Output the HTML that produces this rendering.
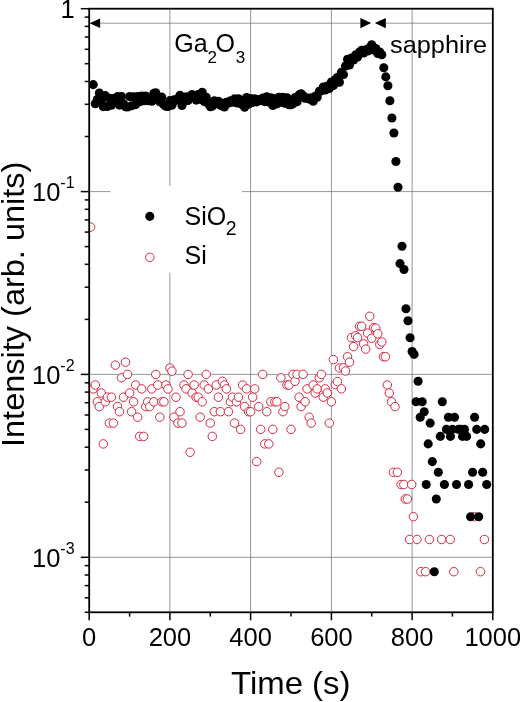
<!DOCTYPE html>
<html lang="en"><head><meta charset="utf-8"><title>SIMS depth profile</title>
<style>html,body{margin:0;padding:0;background:#fff}svg{display:block}</style></head>
<body>
<svg width="520" height="702" viewBox="0 0 520 702" font-family="'Liberation Sans', Arial, sans-serif" fill="#000">
<rect width="520" height="702" fill="#fff"/>
<defs><clipPath id="pa"><rect x="89.2" y="8.7" width="403.6" height="603.6"/></clipPath></defs>
<g stroke="#666c72" stroke-width="0.7">
<line x1="169.9" y1="8.7" x2="169.9" y2="612.3"/>
<line x1="250.6" y1="8.7" x2="250.6" y2="612.3"/>
<line x1="331.4" y1="8.7" x2="331.4" y2="612.3"/>
<line x1="412.1" y1="8.7" x2="412.1" y2="612.3"/>
<line x1="89.2" y1="191.6" x2="492.8" y2="191.6"/>
<line x1="89.2" y1="374.4" x2="492.8" y2="374.4"/>
<line x1="89.2" y1="557.3" x2="492.8" y2="557.3"/>
</g>
<rect x="110.4" y="186" width="131.6" height="86.7" fill="#fff"/>
<rect x="172" y="30" width="76" height="36" fill="#fff"/>
<path d="M95 23.2 H365 M380 23.2 H492.8" stroke="#666c72" stroke-width="0.7" fill="none"/>
<path d="M89.6 23.3 L100.1 18.6 L100.1 28 Z"/>
<path d="M371.2 23.1 L360.4 17.9 L360.4 28.3 Z"/>
<path d="M374.8 23.1 L385.8 17.9 L385.8 28.3 Z"/>
<g clip-path="url(#pa)">
<g fill="#fff" stroke="#d42a45" stroke-width="1">
<circle cx="90.6" cy="227.1" r="4.25"/>
<circle cx="93.2" cy="388.9" r="4.25"/>
<circle cx="95.3" cy="385.0" r="4.25"/>
<circle cx="97.3" cy="401.8" r="4.25"/>
<circle cx="99.3" cy="406.6" r="4.25"/>
<circle cx="101.3" cy="393.0" r="4.25"/>
<circle cx="103.3" cy="443.9" r="4.25"/>
<circle cx="105.3" cy="401.8" r="4.25"/>
<circle cx="107.4" cy="397.2" r="4.25"/>
<circle cx="109.4" cy="423.1" r="4.25"/>
<circle cx="111.4" cy="397.2" r="4.25"/>
<circle cx="113.4" cy="423.1" r="4.25"/>
<circle cx="115.4" cy="365.1" r="4.25"/>
<circle cx="117.5" cy="406.6" r="4.25"/>
<circle cx="119.5" cy="411.7" r="4.25"/>
<circle cx="121.5" cy="377.8" r="4.25"/>
<circle cx="123.5" cy="397.2" r="4.25"/>
<circle cx="125.5" cy="362.2" r="4.25"/>
<circle cx="127.5" cy="374.4" r="4.25"/>
<circle cx="129.6" cy="393.0" r="4.25"/>
<circle cx="131.6" cy="411.7" r="4.25"/>
<circle cx="133.6" cy="401.8" r="4.25"/>
<circle cx="135.6" cy="385.0" r="4.25"/>
<circle cx="137.6" cy="417.2" r="4.25"/>
<circle cx="139.7" cy="436.4" r="4.25"/>
<circle cx="141.7" cy="388.9" r="4.25"/>
<circle cx="143.7" cy="436.4" r="4.25"/>
<circle cx="145.7" cy="406.6" r="4.25"/>
<circle cx="147.7" cy="401.8" r="4.25"/>
<circle cx="149.7" cy="406.6" r="4.25"/>
<circle cx="151.8" cy="388.9" r="4.25"/>
<circle cx="153.8" cy="401.8" r="4.25"/>
<circle cx="155.8" cy="374.4" r="4.25"/>
<circle cx="157.8" cy="385.0" r="4.25"/>
<circle cx="159.8" cy="417.2" r="4.25"/>
<circle cx="161.8" cy="401.8" r="4.25"/>
<circle cx="163.9" cy="401.8" r="4.25"/>
<circle cx="165.9" cy="385.0" r="4.25"/>
<circle cx="167.9" cy="388.9" r="4.25"/>
<circle cx="169.9" cy="368.0" r="4.25"/>
<circle cx="171.9" cy="371.2" r="4.25"/>
<circle cx="174.0" cy="417.2" r="4.25"/>
<circle cx="176.0" cy="397.2" r="4.25"/>
<circle cx="178.0" cy="423.1" r="4.25"/>
<circle cx="180.0" cy="411.7" r="4.25"/>
<circle cx="182.0" cy="423.1" r="4.25"/>
<circle cx="184.0" cy="385.0" r="4.25"/>
<circle cx="186.1" cy="388.9" r="4.25"/>
<circle cx="188.1" cy="374.4" r="4.25"/>
<circle cx="190.1" cy="452.3" r="4.25"/>
<circle cx="192.1" cy="393.0" r="4.25"/>
<circle cx="194.1" cy="385.0" r="4.25"/>
<circle cx="196.2" cy="397.2" r="4.25"/>
<circle cx="198.2" cy="397.2" r="4.25"/>
<circle cx="200.2" cy="417.2" r="4.25"/>
<circle cx="202.2" cy="401.8" r="4.25"/>
<circle cx="204.2" cy="385.0" r="4.25"/>
<circle cx="206.2" cy="374.4" r="4.25"/>
<circle cx="208.3" cy="388.9" r="4.25"/>
<circle cx="210.3" cy="423.1" r="4.25"/>
<circle cx="212.3" cy="436.4" r="4.25"/>
<circle cx="214.3" cy="411.7" r="4.25"/>
<circle cx="216.3" cy="385.0" r="4.25"/>
<circle cx="218.4" cy="397.2" r="4.25"/>
<circle cx="220.4" cy="411.7" r="4.25"/>
<circle cx="222.4" cy="381.3" r="4.25"/>
<circle cx="224.4" cy="385.0" r="4.25"/>
<circle cx="226.4" cy="388.9" r="4.25"/>
<circle cx="228.4" cy="411.7" r="4.25"/>
<circle cx="230.5" cy="401.8" r="4.25"/>
<circle cx="232.5" cy="397.2" r="4.25"/>
<circle cx="234.5" cy="423.1" r="4.25"/>
<circle cx="236.5" cy="401.8" r="4.25"/>
<circle cx="238.5" cy="397.2" r="4.25"/>
<circle cx="240.6" cy="429.4" r="4.25"/>
<circle cx="242.6" cy="385.0" r="4.25"/>
<circle cx="244.6" cy="406.6" r="4.25"/>
<circle cx="246.6" cy="388.9" r="4.25"/>
<circle cx="248.6" cy="411.7" r="4.25"/>
<circle cx="250.6" cy="411.7" r="4.25"/>
<circle cx="252.7" cy="397.2" r="4.25"/>
<circle cx="254.7" cy="388.9" r="4.25"/>
<circle cx="256.7" cy="461.6" r="4.25"/>
<circle cx="258.7" cy="406.6" r="4.25"/>
<circle cx="260.7" cy="429.4" r="4.25"/>
<circle cx="262.7" cy="374.4" r="4.25"/>
<circle cx="264.8" cy="443.9" r="4.25"/>
<circle cx="266.8" cy="411.7" r="4.25"/>
<circle cx="268.8" cy="443.9" r="4.25"/>
<circle cx="270.8" cy="401.8" r="4.25"/>
<circle cx="272.8" cy="429.4" r="4.25"/>
<circle cx="274.9" cy="401.8" r="4.25"/>
<circle cx="276.9" cy="401.8" r="4.25"/>
<circle cx="278.9" cy="472.3" r="4.25"/>
<circle cx="280.9" cy="377.8" r="4.25"/>
<circle cx="282.9" cy="411.7" r="4.25"/>
<circle cx="284.9" cy="406.6" r="4.25"/>
<circle cx="287.0" cy="385.0" r="4.25"/>
<circle cx="289.0" cy="385.0" r="4.25"/>
<circle cx="291.0" cy="429.4" r="4.25"/>
<circle cx="293.0" cy="374.4" r="4.25"/>
<circle cx="295.0" cy="381.3" r="4.25"/>
<circle cx="297.1" cy="374.4" r="4.25"/>
<circle cx="299.1" cy="397.2" r="4.25"/>
<circle cx="301.1" cy="406.6" r="4.25"/>
<circle cx="303.1" cy="374.4" r="4.25"/>
<circle cx="305.1" cy="401.8" r="4.25"/>
<circle cx="307.1" cy="388.9" r="4.25"/>
<circle cx="309.2" cy="417.2" r="4.25"/>
<circle cx="311.2" cy="423.1" r="4.25"/>
<circle cx="313.2" cy="385.0" r="4.25"/>
<circle cx="315.2" cy="393.0" r="4.25"/>
<circle cx="317.2" cy="388.9" r="4.25"/>
<circle cx="319.3" cy="377.8" r="4.25"/>
<circle cx="321.3" cy="374.4" r="4.25"/>
<circle cx="323.3" cy="397.2" r="4.25"/>
<circle cx="325.3" cy="388.9" r="4.25"/>
<circle cx="327.3" cy="393.0" r="4.25"/>
<circle cx="329.3" cy="423.1" r="4.25"/>
<circle cx="331.4" cy="401.8" r="4.25"/>
<circle cx="333.4" cy="359.6" r="4.25"/>
<circle cx="335.4" cy="384.6" r="4.25"/>
<circle cx="337.4" cy="381.6" r="4.25"/>
<circle cx="339.4" cy="368.0" r="4.25"/>
<circle cx="341.4" cy="388.8" r="4.25"/>
<circle cx="343.5" cy="367.8" r="4.25"/>
<circle cx="345.5" cy="371.0" r="4.25"/>
<circle cx="347.5" cy="356.8" r="4.25"/>
<circle cx="349.5" cy="362.2" r="4.25"/>
<circle cx="351.5" cy="337.6" r="4.25"/>
<circle cx="353.6" cy="346.6" r="4.25"/>
<circle cx="355.6" cy="335.7" r="4.25"/>
<circle cx="357.6" cy="337.6" r="4.25"/>
<circle cx="359.6" cy="326.3" r="4.25"/>
<circle cx="361.6" cy="326.3" r="4.25"/>
<circle cx="363.6" cy="343.9" r="4.25"/>
<circle cx="365.7" cy="349.1" r="4.25"/>
<circle cx="367.7" cy="333.2" r="4.25"/>
<circle cx="369.7" cy="316.3" r="4.25"/>
<circle cx="371.7" cy="338.2" r="4.25"/>
<circle cx="373.7" cy="327.6" r="4.25"/>
<circle cx="375.8" cy="328.2" r="4.25"/>
<circle cx="377.8" cy="333.8" r="4.25"/>
<circle cx="379.8" cy="344.5" r="4.25"/>
<circle cx="381.8" cy="342.0" r="4.25"/>
<circle cx="383.5" cy="356.7" r="4.25"/>
<circle cx="385.4" cy="356.7" r="4.25"/>
<circle cx="387.3" cy="385.0" r="4.25"/>
<circle cx="389.3" cy="393.0" r="4.25"/>
<circle cx="391.5" cy="401.8" r="4.25"/>
<circle cx="393.4" cy="472.3" r="4.25"/>
<circle cx="395.0" cy="406.6" r="4.25"/>
<circle cx="397.3" cy="472.3" r="4.25"/>
<circle cx="401.0" cy="484.5" r="4.25"/>
<circle cx="403.8" cy="484.5" r="4.25"/>
<circle cx="405.3" cy="499.0" r="4.25"/>
<circle cx="407.4" cy="499.0" r="4.25"/>
<circle cx="409.6" cy="539.5" r="4.25"/>
<circle cx="411.7" cy="484.5" r="4.25"/>
<circle cx="413.4" cy="516.7" r="4.25"/>
<circle cx="417.0" cy="539.5" r="4.25"/>
<circle cx="420.9" cy="571.7" r="4.25"/>
<circle cx="425.6" cy="571.7" r="4.25"/>
<circle cx="429.4" cy="539.5" r="4.25"/>
<circle cx="441.6" cy="539.5" r="4.25"/>
<circle cx="450.2" cy="539.5" r="4.25"/>
<circle cx="453.8" cy="571.7" r="4.25"/>
<circle cx="474.3" cy="516.7" r="4.25"/>
<circle cx="480.5" cy="571.7" r="4.25"/>
<circle cx="484.4" cy="539.5" r="4.25"/>
</g>
<g fill="#000">
<circle cx="93.2" cy="84.6" r="4.55"/>
<circle cx="95.3" cy="103.8" r="4.55"/>
<circle cx="97.3" cy="99.5" r="4.55"/>
<circle cx="99.3" cy="93.0" r="4.55"/>
<circle cx="101.3" cy="101.0" r="4.55"/>
<circle cx="103.3" cy="106.6" r="4.55"/>
<circle cx="105.3" cy="95.6" r="4.55"/>
<circle cx="107.4" cy="106.5" r="4.55"/>
<circle cx="109.4" cy="98.2" r="4.55"/>
<circle cx="111.4" cy="105.3" r="4.55"/>
<circle cx="113.4" cy="98.6" r="4.55"/>
<circle cx="115.4" cy="101.8" r="4.55"/>
<circle cx="117.5" cy="96.6" r="4.55"/>
<circle cx="119.5" cy="105.1" r="4.55"/>
<circle cx="121.5" cy="96.5" r="4.55"/>
<circle cx="123.5" cy="103.7" r="4.55"/>
<circle cx="125.5" cy="106.7" r="4.55"/>
<circle cx="127.5" cy="107.0" r="4.55"/>
<circle cx="129.6" cy="96.6" r="4.55"/>
<circle cx="131.6" cy="105.8" r="4.55"/>
<circle cx="133.6" cy="96.7" r="4.55"/>
<circle cx="135.6" cy="104.6" r="4.55"/>
<circle cx="137.6" cy="96.5" r="4.55"/>
<circle cx="139.7" cy="101.8" r="4.55"/>
<circle cx="141.7" cy="96.0" r="4.55"/>
<circle cx="143.7" cy="100.8" r="4.55"/>
<circle cx="145.7" cy="96.0" r="4.55"/>
<circle cx="147.7" cy="100.8" r="4.55"/>
<circle cx="149.7" cy="98.9" r="4.55"/>
<circle cx="151.8" cy="101.2" r="4.55"/>
<circle cx="153.8" cy="93.4" r="4.55"/>
<circle cx="155.8" cy="92.7" r="4.55"/>
<circle cx="157.8" cy="97.3" r="4.55"/>
<circle cx="159.8" cy="101.9" r="4.55"/>
<circle cx="161.8" cy="97.1" r="4.55"/>
<circle cx="163.9" cy="104.9" r="4.55"/>
<circle cx="165.9" cy="106.3" r="4.55"/>
<circle cx="167.9" cy="106.5" r="4.55"/>
<circle cx="169.9" cy="100.6" r="4.55"/>
<circle cx="171.9" cy="105.2" r="4.55"/>
<circle cx="174.0" cy="99.9" r="4.55"/>
<circle cx="176.0" cy="100.4" r="4.55"/>
<circle cx="178.0" cy="98.4" r="4.55"/>
<circle cx="180.0" cy="95.3" r="4.55"/>
<circle cx="182.0" cy="105.5" r="4.55"/>
<circle cx="184.0" cy="101.6" r="4.55"/>
<circle cx="186.1" cy="96.9" r="4.55"/>
<circle cx="188.1" cy="100.5" r="4.55"/>
<circle cx="190.1" cy="96.7" r="4.55"/>
<circle cx="192.1" cy="94.5" r="4.55"/>
<circle cx="194.1" cy="95.5" r="4.55"/>
<circle cx="196.2" cy="100.1" r="4.55"/>
<circle cx="198.2" cy="94.6" r="4.55"/>
<circle cx="200.2" cy="99.3" r="4.55"/>
<circle cx="202.2" cy="92.2" r="4.55"/>
<circle cx="204.2" cy="101.5" r="4.55"/>
<circle cx="206.2" cy="97.2" r="4.55"/>
<circle cx="208.3" cy="103.9" r="4.55"/>
<circle cx="210.3" cy="106.7" r="4.55"/>
<circle cx="212.3" cy="106.1" r="4.55"/>
<circle cx="214.3" cy="100.8" r="4.55"/>
<circle cx="216.3" cy="103.8" r="4.55"/>
<circle cx="218.4" cy="101.3" r="4.55"/>
<circle cx="220.4" cy="105.4" r="4.55"/>
<circle cx="222.4" cy="103.2" r="4.55"/>
<circle cx="224.4" cy="107.0" r="4.55"/>
<circle cx="226.4" cy="102.2" r="4.55"/>
<circle cx="228.4" cy="103.1" r="4.55"/>
<circle cx="230.5" cy="100.7" r="4.55"/>
<circle cx="232.5" cy="102.2" r="4.55"/>
<circle cx="234.5" cy="98.9" r="4.55"/>
<circle cx="236.5" cy="102.9" r="4.55"/>
<circle cx="238.5" cy="98.7" r="4.55"/>
<circle cx="240.6" cy="103.9" r="4.55"/>
<circle cx="242.6" cy="101.4" r="4.55"/>
<circle cx="244.6" cy="107.3" r="4.55"/>
<circle cx="246.6" cy="97.5" r="4.55"/>
<circle cx="248.6" cy="104.2" r="4.55"/>
<circle cx="250.6" cy="98.6" r="4.55"/>
<circle cx="252.7" cy="102.4" r="4.55"/>
<circle cx="254.7" cy="98.9" r="4.55"/>
<circle cx="256.7" cy="101.9" r="4.55"/>
<circle cx="258.7" cy="99.5" r="4.55"/>
<circle cx="260.7" cy="100.8" r="4.55"/>
<circle cx="262.7" cy="98.1" r="4.55"/>
<circle cx="264.8" cy="101.6" r="4.55"/>
<circle cx="266.8" cy="96.7" r="4.55"/>
<circle cx="268.8" cy="102.0" r="4.55"/>
<circle cx="270.8" cy="97.9" r="4.55"/>
<circle cx="272.8" cy="105.5" r="4.55"/>
<circle cx="274.9" cy="98.8" r="4.55"/>
<circle cx="276.9" cy="103.9" r="4.55"/>
<circle cx="278.9" cy="97.2" r="4.55"/>
<circle cx="280.9" cy="102.2" r="4.55"/>
<circle cx="282.9" cy="97.2" r="4.55"/>
<circle cx="284.9" cy="103.3" r="4.55"/>
<circle cx="287.0" cy="97.8" r="4.55"/>
<circle cx="289.0" cy="104.7" r="4.55"/>
<circle cx="291.0" cy="104.7" r="4.55"/>
<circle cx="293.0" cy="103.8" r="4.55"/>
<circle cx="295.0" cy="97.6" r="4.55"/>
<circle cx="297.1" cy="101.7" r="4.55"/>
<circle cx="299.1" cy="94.9" r="4.55"/>
<circle cx="301.1" cy="93.8" r="4.55"/>
<circle cx="303.1" cy="95.7" r="4.55"/>
<circle cx="305.1" cy="98.2" r="4.55"/>
<circle cx="307.1" cy="98.0" r="4.55"/>
<circle cx="309.2" cy="99.1" r="4.55"/>
<circle cx="311.2" cy="97.8" r="4.55"/>
<circle cx="313.2" cy="101.2" r="4.55"/>
<circle cx="315.2" cy="96.3" r="4.55"/>
<circle cx="317.2" cy="97.2" r="4.55"/>
<circle cx="319.3" cy="91.3" r="4.55"/>
<circle cx="321.3" cy="90.9" r="4.55"/>
<circle cx="323.3" cy="87.0" r="4.55"/>
<circle cx="325.3" cy="90.0" r="4.55"/>
<circle cx="327.3" cy="86.0" r="4.55"/>
<circle cx="329.3" cy="88.5" r="4.55"/>
<circle cx="331.4" cy="82.0" r="4.55"/>
<circle cx="333.4" cy="85.5" r="4.55"/>
<circle cx="335.4" cy="79.5" r="4.55"/>
<circle cx="337.4" cy="77.5" r="4.55"/>
<circle cx="339.4" cy="82.3" r="4.55"/>
<circle cx="341.4" cy="72.2" r="4.55"/>
<circle cx="343.5" cy="74.6" r="4.55"/>
<circle cx="345.5" cy="66.0" r="4.55"/>
<circle cx="347.5" cy="59.2" r="4.55"/>
<circle cx="349.5" cy="65.0" r="4.55"/>
<circle cx="351.5" cy="58.0" r="4.55"/>
<circle cx="353.6" cy="60.0" r="4.55"/>
<circle cx="355.6" cy="54.9" r="4.55"/>
<circle cx="357.6" cy="57.0" r="4.55"/>
<circle cx="359.6" cy="52.0" r="4.55"/>
<circle cx="361.6" cy="50.3" r="4.55"/>
<circle cx="363.6" cy="53.0" r="4.55"/>
<circle cx="365.7" cy="49.8" r="4.55"/>
<circle cx="367.7" cy="51.0" r="4.55"/>
<circle cx="369.7" cy="47.8" r="4.55"/>
<circle cx="371.7" cy="44.8" r="4.55"/>
<circle cx="373.7" cy="50.0" r="4.55"/>
<circle cx="375.8" cy="48.5" r="4.55"/>
<circle cx="377.8" cy="53.5" r="4.55"/>
<circle cx="379.8" cy="52.0" r="4.55"/>
<circle cx="381.8" cy="54.8" r="4.55"/>
<circle cx="383.8" cy="67.7" r="4.55"/>
<circle cx="385.8" cy="76.9" r="4.55"/>
<circle cx="387.9" cy="85.7" r="4.55"/>
<circle cx="389.9" cy="100.8" r="4.55"/>
<circle cx="391.9" cy="118.0" r="4.55"/>
<circle cx="393.9" cy="133.0" r="4.55"/>
<circle cx="395.9" cy="161.5" r="4.55"/>
<circle cx="398.0" cy="187.2" r="4.55"/>
<circle cx="400.0" cy="263.6" r="4.55"/>
<circle cx="402.0" cy="246.2" r="4.55"/>
<circle cx="404.0" cy="269.5" r="4.55"/>
<circle cx="406.0" cy="308.7" r="4.55"/>
<circle cx="408.0" cy="320.8" r="4.55"/>
<circle cx="410.1" cy="337.7" r="4.55"/>
<circle cx="412.1" cy="351.5" r="4.55"/>
<circle cx="414.1" cy="354.4" r="4.55"/>
<circle cx="418.1" cy="381.3" r="4.55"/>
<circle cx="416.1" cy="401.8" r="4.55"/>
<circle cx="420.2" cy="417.2" r="4.55"/>
<circle cx="422.2" cy="401.8" r="4.55"/>
<circle cx="424.2" cy="411.7" r="4.55"/>
<circle cx="426.2" cy="484.5" r="4.55"/>
<circle cx="428.2" cy="443.9" r="4.55"/>
<circle cx="430.2" cy="423.1" r="4.55"/>
<circle cx="432.3" cy="461.6" r="4.55"/>
<circle cx="434.3" cy="571.7" r="4.55"/>
<circle cx="436.3" cy="499.0" r="4.55"/>
<circle cx="438.3" cy="472.3" r="4.55"/>
<circle cx="440.3" cy="436.4" r="4.55"/>
<circle cx="442.3" cy="401.8" r="4.55"/>
<circle cx="444.4" cy="484.5" r="4.55"/>
<circle cx="446.4" cy="429.4" r="4.55"/>
<circle cx="448.4" cy="417.2" r="4.55"/>
<circle cx="450.4" cy="436.4" r="4.55"/>
<circle cx="452.4" cy="429.4" r="4.55"/>
<circle cx="454.5" cy="417.2" r="4.55"/>
<circle cx="456.5" cy="484.5" r="4.55"/>
<circle cx="458.5" cy="429.4" r="4.55"/>
<circle cx="460.5" cy="429.4" r="4.55"/>
<circle cx="462.5" cy="436.4" r="4.55"/>
<circle cx="464.5" cy="429.4" r="4.55"/>
<circle cx="466.6" cy="436.4" r="4.55"/>
<circle cx="468.6" cy="484.5" r="4.55"/>
<circle cx="470.6" cy="516.7" r="4.55"/>
<circle cx="472.6" cy="472.3" r="4.55"/>
<circle cx="474.6" cy="417.2" r="4.55"/>
<circle cx="476.7" cy="429.4" r="4.55"/>
<circle cx="478.7" cy="516.7" r="4.55"/>
<circle cx="480.7" cy="443.9" r="4.55"/>
<circle cx="482.7" cy="472.3" r="4.55"/>
<circle cx="484.7" cy="429.4" r="4.55"/>
<circle cx="486.7" cy="484.5" r="4.55"/>
</g>
</g>
<rect x="89.2" y="8.7" width="403.6" height="603.6" fill="none" stroke="#000" stroke-width="1.8"/>
<g stroke="#000" stroke-width="1.5">
<line x1="89.2" y1="612.3" x2="89.2" y2="620.3"/>
<line x1="129.6" y1="612.3" x2="129.6" y2="616.6"/>
<line x1="169.9" y1="612.3" x2="169.9" y2="620.3"/>
<line x1="210.3" y1="612.3" x2="210.3" y2="616.6"/>
<line x1="250.6" y1="612.3" x2="250.6" y2="620.3"/>
<line x1="291.0" y1="612.3" x2="291.0" y2="616.6"/>
<line x1="331.4" y1="612.3" x2="331.4" y2="620.3"/>
<line x1="371.7" y1="612.3" x2="371.7" y2="616.6"/>
<line x1="412.1" y1="612.3" x2="412.1" y2="620.3"/>
<line x1="452.4" y1="612.3" x2="452.4" y2="616.6"/>
<line x1="492.8" y1="612.3" x2="492.8" y2="620.3"/>
<line x1="80.8" y1="8.7" x2="89.2" y2="8.7"/>
<line x1="80.8" y1="191.6" x2="89.2" y2="191.6"/>
<line x1="84.7" y1="136.5" x2="89.2" y2="136.5"/>
<line x1="84.7" y1="104.3" x2="89.2" y2="104.3"/>
<line x1="84.7" y1="81.5" x2="89.2" y2="81.5"/>
<line x1="84.7" y1="63.7" x2="89.2" y2="63.7"/>
<line x1="84.7" y1="49.3" x2="89.2" y2="49.3"/>
<line x1="84.7" y1="37.0" x2="89.2" y2="37.0"/>
<line x1="84.7" y1="26.4" x2="89.2" y2="26.4"/>
<line x1="84.7" y1="17.1" x2="89.2" y2="17.1"/>
<line x1="80.8" y1="374.4" x2="89.2" y2="374.4"/>
<line x1="84.7" y1="319.4" x2="89.2" y2="319.4"/>
<line x1="84.7" y1="287.2" x2="89.2" y2="287.2"/>
<line x1="84.7" y1="264.3" x2="89.2" y2="264.3"/>
<line x1="84.7" y1="246.6" x2="89.2" y2="246.6"/>
<line x1="84.7" y1="232.1" x2="89.2" y2="232.1"/>
<line x1="84.7" y1="219.9" x2="89.2" y2="219.9"/>
<line x1="84.7" y1="209.3" x2="89.2" y2="209.3"/>
<line x1="84.7" y1="199.9" x2="89.2" y2="199.9"/>
<line x1="80.8" y1="557.3" x2="89.2" y2="557.3"/>
<line x1="84.7" y1="502.2" x2="89.2" y2="502.2"/>
<line x1="84.7" y1="470.0" x2="89.2" y2="470.0"/>
<line x1="84.7" y1="447.2" x2="89.2" y2="447.2"/>
<line x1="84.7" y1="429.4" x2="89.2" y2="429.4"/>
<line x1="84.7" y1="415.0" x2="89.2" y2="415.0"/>
<line x1="84.7" y1="402.7" x2="89.2" y2="402.7"/>
<line x1="84.7" y1="392.1" x2="89.2" y2="392.1"/>
<line x1="84.7" y1="382.8" x2="89.2" y2="382.8"/>
<line x1="84.7" y1="612.3" x2="89.2" y2="612.3"/>
<line x1="84.7" y1="597.8" x2="89.2" y2="597.8"/>
<line x1="84.7" y1="585.6" x2="89.2" y2="585.6"/>
<line x1="84.7" y1="575.0" x2="89.2" y2="575.0"/>
<line x1="84.7" y1="565.6" x2="89.2" y2="565.6"/>
</g>
<g font-size="25.5">
<text x="89.2" y="646.3" text-anchor="middle">0</text>
<text x="169.9" y="646.3" text-anchor="middle">200</text>
<text x="250.6" y="646.3" text-anchor="middle">400</text>
<text x="331.4" y="646.3" text-anchor="middle">600</text>
<text x="412.1" y="646.3" text-anchor="middle">800</text>
<text x="492.8" y="646.3" text-anchor="middle">1000</text>
<text x="74.8" y="17.8" text-anchor="end">1</text>
<text x="32" y="201.4">10</text>
<text x="60.3" y="188.3" font-size="16">-1</text>
<text x="32" y="384.2">10</text>
<text x="60.3" y="371.1" font-size="16">-2</text>
<text x="32" y="567.1">10</text>
<text x="60.3" y="554.0" font-size="16">-3</text>
</g>
<text x="231" y="693.7" font-size="32" textLength="119.5" lengthAdjust="spacingAndGlyphs">Time (s)</text>
<text transform="translate(23.9 447) rotate(-90)" font-size="32" textLength="285.4" lengthAdjust="spacingAndGlyphs">Intensity (arb. units)</text>
<g font-size="25">
<text x="174.3" y="51.8">Ga</text><text x="207.5" y="62.7" font-size="17">2</text><text x="215.5" y="51.8">O</text><text x="235.8" y="62.7" font-size="17">3</text>
<text x="390" y="52.9" font-size="24.6" textLength="97.2" lengthAdjust="spacingAndGlyphs">sapphire</text>
<text x="184.6" y="225">SiO</text><text x="225.8" y="234.6" font-size="19.5">2</text>
<text x="184.6" y="264.4">Si</text>
</g>
<circle cx="149.8" cy="216.4" r="4.55"/>
<circle cx="149.8" cy="257.3" r="4.25" fill="#fff" stroke="#d42a45" stroke-width="1"/>
</svg>
</body></html>
